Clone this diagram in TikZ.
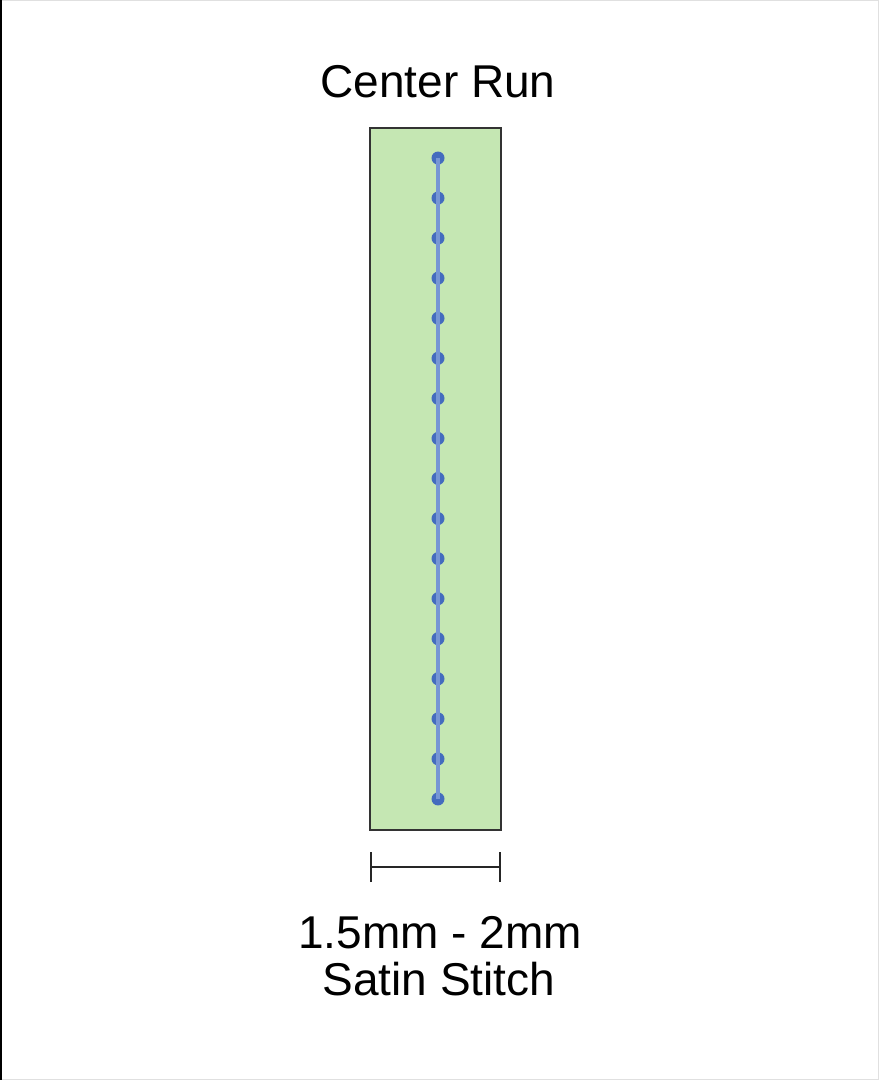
\documentclass[tikz,border=0pt]{standalone}
\usepackage{fontspec}
\setmainfont{Liberation Sans}
\usepackage{tikz}
\usetikzlibrary{positioning}
\definecolor{satingreen}{RGB}{197,231,179}
\definecolor{dotblue}{RGB}{68,108,190}
\definecolor{runblue}{RGB}{118,150,212}
\tikzset{
    %Define style for the satin column
    satin/.style={
           rectangle,
           draw=black!80, line width=1.5pt,
           fill=satingreen,
           minimum width=131pt,
           minimum height=702pt,
           inner sep=0pt},
    %Define style for the stitch points
    stitchdot/.style={
           circle,
           fill=dotblue,
           minimum size=13pt,
           inner sep=0pt},
    label/.style={
           font=\fontsize{46}{54}\selectfont,
           inner sep=0pt},
    % Define line styles
    run/.style={
           draw=runblue,
           line width=4pt},
    dimline/.style={
           draw=black!85,
           line width=1.6pt}
}
\begin{document}
\begin{tikzpicture}[x=1pt,y=-1pt]
\useasboundingbox (0,0) rectangle (879,1080);
\draw[black!12, line width=1.5pt] (0,0) rectangle (879,1080);
\draw[black, line width=2pt] (1,0) -- (1,1080);
 %nodes
\node[label, anchor=base](title) at (438,97){Center Run};
\node[satin](column) at (435.5,479){};
\foreach \i in {1,...,17}
    \node[stitchdot](d\i) at (438,{158+(\i-1)*40.06}){};
\draw[run] (d1.center) -- (d17.center);
\coordinate (left) at (371,867);
\coordinate (right) at (500,867);
\draw[dimline] (left) -- (right);
\draw[dimline] ([yshift=-15pt]left) -- ([yshift=15pt]left);
\draw[dimline] ([yshift=-15pt]right) -- ([yshift=15pt]right);
\node[label, anchor=base](size) at (440,948){1.5mm - 2mm};
\node[label, anchor=base](stitch) at (439,995){Satin Stitch};
\end{tikzpicture}
\end{document}
